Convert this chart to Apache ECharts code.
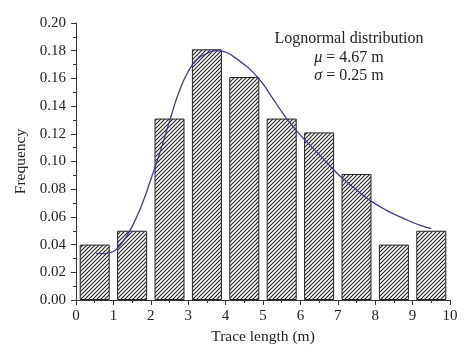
<!DOCTYPE html>
<html>
<head>
<meta charset="utf-8">
<script src="https://cdn.jsdelivr.net/npm/echarts@6/dist/echarts.min.js"></script>
<style>
html,body{margin:0;padding:0;background:#fff;}
#chart{width:474px;height:364px;}
</style>
</head>
<body>
<div id="chart"></div>
<script>
// Data
const binCenters = [0.5, 1.5, 2.5, 3.5, 4.5, 5.5, 6.5, 7.5, 8.5, 9.5];
const frequencies = [0.04, 0.05, 0.131, 0.181, 0.161, 0.131, 0.121, 0.091, 0.04, 0.05];
const fitX = [0.54, 0.75, 1.0, 1.25, 1.5, 1.75, 2.0, 2.25, 2.5, 2.75, 3.0, 3.25, 3.5, 3.75, 4.0, 4.25, 4.5, 4.75, 5.0, 5.25, 5.5, 5.75, 6.0, 6.25, 6.5, 6.75, 7.0, 7.25, 7.5, 7.75, 8.0, 8.25, 8.5, 8.75, 9.0, 9.25, 9.5];
const fitY = [0.0336, 0.0335, 0.035, 0.042, 0.053, 0.068, 0.087, 0.107, 0.129, 0.150, 0.165, 0.174, 0.178, 0.180, 0.179, 0.175, 0.170, 0.164, 0.156, 0.146, 0.136, 0.127, 0.119, 0.112, 0.105, 0.098, 0.091, 0.085, 0.0795, 0.074, 0.0695, 0.0655, 0.062, 0.059, 0.056, 0.0535, 0.0515];
const xTicks = [0, 1, 2, 3, 4, 5, 6, 7, 8, 9, 10];
const yTicks = [0, 0.02, 0.04, 0.06, 0.08, 0.10, 0.12, 0.14, 0.16, 0.18, 0.20];
const annotation = ['Lognormal distribution', '4.67', '0.25'];

// hatch pattern
function makeHatch() {
  const s = 4;
  const c = document.createElement('canvas');
  c.width = s; c.height = s;
  const g = c.getContext('2d');
  g.fillStyle = '#ffffff';
  g.fillRect(0, 0, s, s);
  g.strokeStyle = '#222222';
  g.lineWidth = 1.1;
  g.beginPath();
  g.moveTo(0, s); g.lineTo(s, 0);
  g.moveTo(-1, 1); g.lineTo(1, -1);
  g.moveTo(s - 1, s + 1); g.lineTo(s + 1, s - 1);
  g.stroke();
  return c;
}

const serif = '"Liberation Serif", "DejaVu Serif", serif';
const txt = '#222';
const chart = echarts.init(document.getElementById('chart'), null, {renderer: 'canvas'});

function label(y, content) {
  return {
    type: 'text', x: 349, y: y, z: 10,
    style: {
      text: content, align: 'center', verticalAlign: 'middle',
      fontFamily: serif, fontSize: 16, fill: txt,
      rich: {
        i: {fontStyle: 'italic', fontFamily: serif, fontSize: 16, fill: txt},
        n: {fontFamily: serif, fontSize: 16, fill: txt}
      }
    }
  };
}

chart.setOption({
  animation: false,
  backgroundColor: '#ffffff',
  grid: {left: 76, right: 24, top: 23, bottom: 64, containLabel: false},
  xAxis: {
    type: 'value',
    min: xTicks[0], max: xTicks[xTicks.length - 1], interval: 1,
    name: 'Trace length (m)',
    nameLocation: 'middle', nameGap: 29,
    nameTextStyle: {fontFamily: serif, fontSize: 15.5, color: txt},
    axisLine: {show: true, onZero: false, lineStyle: {color: '#333', width: 1}},
    axisTick: {show: true, inside: false, length: 5, lineStyle: {color: '#333'}},
    minorTick: {show: true, splitNumber: 2, length: 3, lineStyle: {color: '#333'}},
    axisLabel: {fontFamily: serif, fontSize: 15, color: txt, margin: 9},
    splitLine: {show: false}
  },
  yAxis: {
    type: 'value',
    min: yTicks[0], max: yTicks[yTicks.length - 1], interval: 0.02,
    name: 'Frequency',
    nameLocation: 'middle', nameGap: 47, nameRotate: 90,
    nameTextStyle: {fontFamily: serif, fontSize: 15.5, color: txt},
    axisLine: {show: true, lineStyle: {color: '#333', width: 1}},
    axisTick: {show: true, inside: false, length: 5, lineStyle: {color: '#333'}},
    minorTick: {show: true, splitNumber: 2, length: 3, lineStyle: {color: '#333'}},
    axisLabel: {fontFamily: serif, fontSize: 15, color: txt, margin: 10,
      formatter: v => v.toFixed(2)},
    splitLine: {show: false}
  },
  graphic: [
    label(39, annotation[0]),
    label(58, '{i|μ}{n| = ' + annotation[1] + ' m}'),
    label(76, '{i|σ}{n| = ' + annotation[2] + ' m}')
  ],
  series: [{
    type: 'bar',
    data: binCenters.map((x, i) => [x, frequencies[i]]),
    barWidth: 30,
    itemStyle: {
      color: {image: makeHatch(), repeat: 'repeat'},
      borderColor: '#222', borderWidth: 1
    },
    z: 2
  }, {
    type: 'line',
    data: fitX.map((x, i) => [x, fitY[i]]),
    smooth: true,
    symbol: 'none',
    lineStyle: {color: '#3c3c8e', width: 1.3},
    z: 3
  }]
});
</script>
</body>
</html>
